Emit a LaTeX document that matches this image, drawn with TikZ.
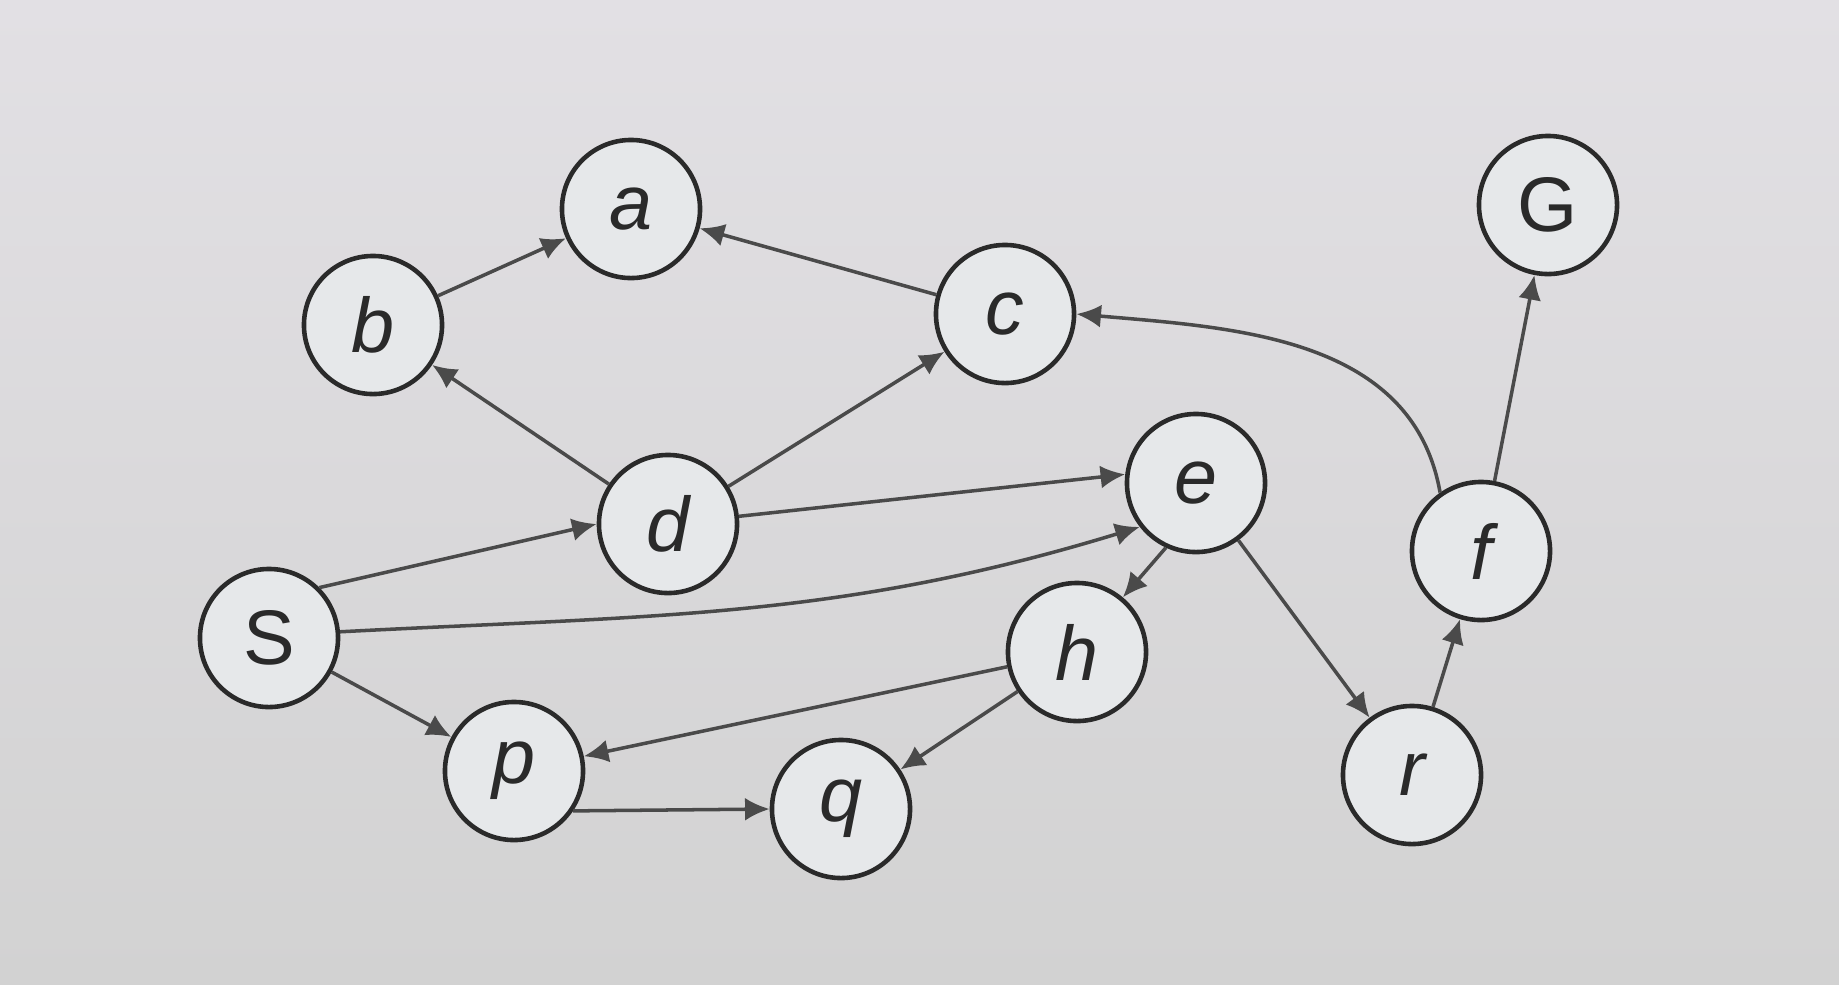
\documentclass[tikz,border=0pt]{standalone}
\usepackage{fontspec}
\newfontfamily\labfont{Liberation Sans}
\usetikzlibrary{arrows.meta}
\definecolor{bgtop}{HTML}{E2E0E4}
\definecolor{bgbot}{HTML}{D2D2D2}
\definecolor{ink}{HTML}{2A2A2A}
\definecolor{nodefill}{HTML}{E6E8EA}
\tikzset{
  vert/.style={circle, draw=ink, line width=1.3pt, fill=nodefill, minimum size=1.38cm, inner sep=0pt,
    font=\labfont\fontsize{22}{22}\selectfont, text=ink},
  ivert/.style={vert, font=\labfont\itshape\fontsize{22}{22}\selectfont},
  edge/.style={draw=ink!85, line width=1pt, -{Latex[length=7pt,width=6.5pt]}},
}
\begin{document}
\begin{tikzpicture}[x=0.01cm,y=-0.01cm]
\shade[top color=bgtop, bottom color=bgbot] (0,0) rectangle (1839,984);
\useasboundingbox (0,0) rectangle (1839,984);
\node[ivert] (a) at (631,209) {a};
\node[ivert] (b) at (373,325) {b};
\node[ivert] (c) at (1005,314) {c};
\node[vert]  (G) at (1548,205) {G};
\node[ivert] (d) at (668,524) {d};
\node[ivert] (e) at (1196,483) {e};
\node[ivert] (f) at (1481,551) {f};
\node[vert]  (S) at (269,638) {S};
\node[ivert] (h) at (1077,652) {h};
\node[ivert] (p) at (514,771) {p};
\node[ivert] (q) at (841,809) {q};
\node[ivert] (r) at (1412,775) {r};
\draw[edge] (b) -- (a);
\draw[edge] (c) -- (a);
\draw[edge] (d) -- (b);
\draw[edge] (d) -- (c);
\draw[edge] (d) -- (e.173);
\draw[edge] (S.45) -- (d.180);
\draw[edge] (S.5) to[out=3,in=197] (e.218);
\draw[edge] (S) -- (p);
\draw[edge] (e.245) -- (h.50);
\draw[edge] (h) -- (p);
\draw[edge] (h) -- (q);
\draw[edge] (p.-34) -- (q.west);
\draw[edge] (e) -- (r);
\draw[edge] (r) -- (f);
\draw[edge] (f) -- (G);
\draw[edge] (f.125) to[out=100,in=-5] (c.east);
\end{tikzpicture}
\end{document}
